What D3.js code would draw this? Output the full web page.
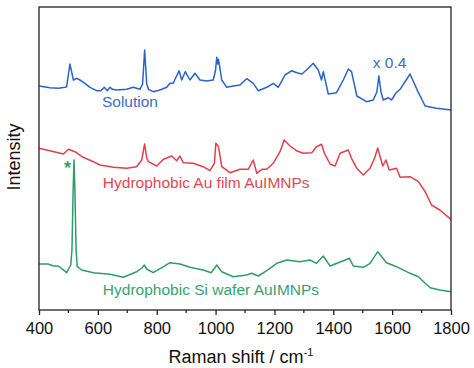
<!DOCTYPE html>
<html><head><meta charset="utf-8">
<script src="https://cdn.jsdelivr.net/npm/d3@7"></script>
<style>html,body{margin:0;padding:0;background:#fff;}svg{display:block;font-family:Arial,"Liberation Sans",sans-serif;}</style>
</head><body>
<svg id="chart" width="474" height="368"></svg>
<script>
// Raman shift (cm^-1) and intensity (arb., offset stacked)
const solutionShift = [400,437,466,488,494,505,517,529,539,556,573,596,610,622,632,641,650,664,698,720,743,752,759,766,772,788,811,834,845,856,876,885,897,913,930,947,970,992,1000,1004,1007,1010,1021,1038,1060,1083,1106,1128,1145,1174,1196,1213,1236,1259,1276,1293,1309,1332,1349,1360,1366,1383,1411,1434,1451,1462,1480,1513,1536,1548,1555,1562,1570,1587,1598,1612,1627,1661,1684,1712,1751,1800];
const solutionInt   = [224,222.3,221.7,222.7,223.3,246,230,231.7,230,226.7,222.7,219.3,219.3,222.7,219.3,222.7,220.7,220,220.7,222.7,220.7,226,260,226,220.7,218.3,220,222.7,226.7,226.7,239.3,230,238.3,230,236.7,230,229,230,240,252.7,246,250.7,230,222.7,224,225,231.3,226.7,219.3,222.7,226.7,222.7,235,239.3,237.3,236,240,246.7,240,230,238.3,216,217.3,230,241,238.3,214,208.3,210,218,234,218,210,212.3,210,216.7,220.7,236,220.7,204,201.7,200];

const auFilmShift = [400,437,483,500,522,550,585,607,653,698,732,749,759,766,772,800,823,851,868,879,890,924,958,981,996,1001,1010,1021,1049,1083,1111,1128,1140,1157,1174,1196,1219,1233,1253,1275,1298,1327,1343,1360,1370,1389,1406,1423,1451,1462,1480,1502,1525,1542,1551,1568,1579,1590,1615,1627,1661,1689,1712,1734,1762,1800];
const auFilmInt   = [161.7,159.3,156,160.7,158.3,152.7,148.3,145,142.7,141.7,143.3,150,166,152,148.3,144,150.7,154,149.3,154,147.3,146.7,143.3,139.3,146.7,166.7,163.3,143.3,137.3,140.7,140.7,150,136.7,140.7,140.7,146.7,158.3,170,164,159.3,156.7,157.3,163.3,165.7,156.7,146,144,156.7,160,151.7,141.7,135,141.7,153.3,162,144,150,140,141.7,132.7,133.3,128.3,118.3,105,100,90.7];

const siWaferShift = [400,431,449,466,494,508,512,516,519,522,526,530,545,585,641,687,732,750,758,766,788,823,845,879,913,958,985,1004,1021,1060,1106,1123,1145,1174,1208,1242,1287,1321,1343,1366,1389,1417,1455,1468,1502,1525,1551,1581,1615,1661,1689,1729,1762,1800];
const siWaferInt   = [46,46,44,44,37.3,45,60,120,150,120,60,43.3,40,37.3,35.7,32.7,38.3,42,45,41,37.3,43.3,47.3,46,42.7,40,37.3,45,38.3,33.3,35,36.7,34,39.3,46.7,50,48.3,50,46.7,54,44,47.3,51.7,44,42.7,46.7,58.3,47.3,43.3,36.7,33.3,22.3,20,18.3];

const xTicks = [400,600,800,1000,1200,1400,1600,1800];
const xMinorTicks = [500,700,900,1100,1300,1500,1700];

const seriesNames  = ["Solution","Hydrophobic Au film AuIMNPs","Hydrophobic Si wafer AuIMNPs"];
const seriesColors = ["#2b63c9","#e0404c","#2f9d69"];
const textColors   = ["#3a6ec9","#e04852","#38a271"];
// label anchors in data units [shift, intensity]
const labelShift = [614, 617, 617];
const labelInt   = [203, 121.7, 15];

const svg = d3.select("#chart");
const m = {left:39, right:23, top:7, bottom:58};
const W = 474, H = 368;
const x = d3.scaleLinear().domain([400,1800]).range([m.left, W - m.right]);
const y = d3.scaleLinear().domain([0,303]).range([H - m.bottom, m.top]);

const series = [
  {sx: solutionShift, sy: solutionInt},
  {sx: auFilmShift, sy: auFilmInt},
  {sx: siWaferShift, sy: siWaferInt}
];

const line = d3.line().x(d => x(d[0])).y(d => y(d[1]));

// draw lines (green first so its peak sits below the red? keep order as reference)
[2,1,0].forEach(i => {
  const pts = series[i].sx.map((s,k) => [s, series[i].sy[k]]);
  svg.append("path").datum(pts)
    .attr("fill","none").attr("stroke",seriesColors[i])
    .attr("stroke-width",1.5).attr("stroke-linejoin","round")
    .attr("d", line);
});

// frame
svg.append("rect").attr("x", m.left).attr("y", m.top)
  .attr("width", W - m.left - m.right).attr("height", H - m.top - m.bottom)
  .attr("fill","none").attr("stroke","#222").attr("stroke-width",1.3);

// x axis
const gx = svg.append("g").attr("transform", `translate(0,${H - m.bottom})`);
gx.call(d3.axisBottom(x).tickValues(xTicks).tickSize(5).tickFormat(d3.format("d")));
gx.select(".domain").remove();
gx.selectAll(".tick line").attr("stroke","#222").attr("stroke-width",1.3);
gx.selectAll(".tick text").attr("y",24).attr("dy",0)
  .attr("font-size","16.5px").attr("fill","#111").attr("font-family","Arial,'Liberation Sans',sans-serif");
gx.selectAll(".minor").data(xMinorTicks).enter().append("line")
  .attr("x1", d => x(d)).attr("x2", d => x(d)).attr("y1",0).attr("y2",3)
  .attr("stroke","#222").attr("stroke-width",1.3);

// axis titles
const xt = svg.append("text").attr("x", (x(400)+x(1800))/2 - 4).attr("y", 363)
  .attr("text-anchor","middle").attr("font-size","18px").attr("fill","#111");
xt.append("tspan").text("Raman shift / cm");
xt.append("tspan").text("-1").attr("font-size","11px").attr("dy","-7");

svg.append("text").attr("transform","translate(20,157) rotate(-90)")
  .attr("text-anchor","middle").attr("font-size","18px").attr("fill","#111").text("Intensity");

// series labels
seriesNames.forEach((n,i) => {
  svg.append("text").attr("x", x(labelShift[i])).attr("y", y(labelInt[i]))
    .attr("font-size","15.5px").attr("fill", textColors[i]).text(n);
});
svg.append("text").attr("x", x(1534)).attr("y", y(241.7))
  .attr("font-size","15.5px").attr("fill", textColors[0]).text("x 0.4");
svg.append("text").attr("x", x(497)).attr("y", y(136)).attr("text-anchor","middle")
  .attr("font-size","18px").attr("font-weight","bold").attr("fill", textColors[2]).text("*");
</script>
</body></html>
